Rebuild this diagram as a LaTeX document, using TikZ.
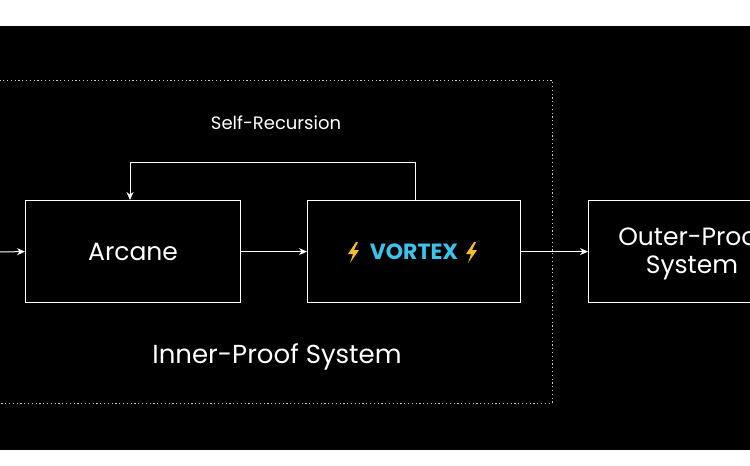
\documentclass[tikz,border=0pt]{standalone}
\usepackage{fontspec}
\setmainfont{Poppins}
\usetikzlibrary{arrows.meta}
\definecolor{vcyan}{RGB}{60,195,235}
\definecolor{bolt}{RGB}{245,190,40}
\begin{document}
\begin{tikzpicture}[x=1pt,y=-1pt,
  box/.style={draw=white,line width=1.2pt,minimum width=#1,minimum height=102pt,anchor=north west},
  big/.style={text=white,font=\fontsize{25}{28}\selectfont},
  arr/.style={draw=white,line width=1pt,-{Stealth[length=8pt,width=7pt]}},
  lbl/.style={text=white}]
\useasboundingbox (0,0) rectangle (750,466);
\fill[white] (0,0) rectangle (750,466);
\fill[black] (0,26) rectangle (750,450);
\begin{scope}
\clip (0,26) rectangle (750,450);
\draw[white!80!black,line width=1pt,dash pattern=on 1.2pt off 2.6pt] (-10,80) rectangle (552,403);
\node[box=215pt] (arc) at (25,200) {};
\node[big] (arct) at (arc.center) {Arcane};
\node[box=213pt] (vor) at (307,200) {};
\node[box=200pt] (out) at (588,200) {};
\node[big,align=center] (outt) at (692,253) {Outer-Proof\\System};
\node[text=vcyan,font=\bfseries\fontsize{22}{26}\selectfont] (vt) at (414,252) {VORTEX};
\foreach \xx in {353,471}{
  \fill[bolt] (\xx+3,242) -- (\xx-5,254) -- (\xx,254) -- (\xx-3,263) -- (\xx+6,250) -- (\xx+1,250) -- (\xx+5,242) -- cycle;
}
\coordinate (in) at (-5,252);
\draw[arr] (in) -- (arc.west);
\draw[arr] (arc.east) -- (vor.west);
\draw[arr] (vor.east) -- (out.west);
\coordinate (fa) at (415,162);
\coordinate (fb) at (130,162);
\draw[arr] (vor.north -| fa) -- (fa) -- (fb) -- (arc.north -| fb);
\node[lbl,font=\fontsize{18}{21}\selectfont] (sr) at (276,123) {Self-Recursion};
\node[lbl,font=\fontsize{26}{30}\selectfont] (ips) at (277,357) {Inner-Proof System};
\end{scope}
\end{tikzpicture}
\end{document}
